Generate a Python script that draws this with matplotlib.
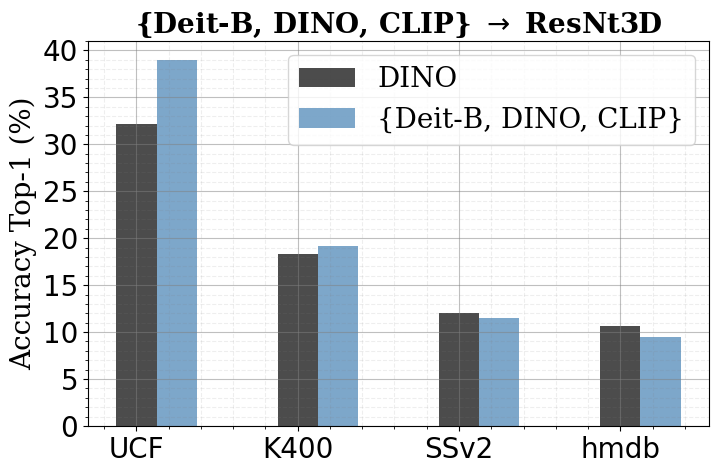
import numpy as np
import matplotlib.pyplot as plt
from matplotlib.ticker import MultipleLocator

plt.rcParams["font.family"] = "serif"

# ====== Data ======
datasets = ["UCF", "K400", "SSv2", "hmdb"]
dino_acc = [32.2, 18.3, 12.0, 10.6]
ensemble_acc = [39.0, 19.2, 11.5, 9.5]
legends = ["DINO", "{Deit-B, DINO, CLIP}"]

fig, ax = plt.subplots(figsize=(7.18, 4.73), dpi=100)

x = np.arange(len(datasets))
width = 0.25

ax.bar(x, dino_acc, width, color="black", alpha=0.7, label=legends[0])
ax.bar(x + width, ensemble_acc, width, color="steelblue", alpha=0.7, label=legends[1])

ax.set_xticks(x)
ax.set_xticklabels(datasets, fontfamily="DejaVu Sans")
ax.set_ylim(0, 41)
ax.yaxis.set_major_locator(MultipleLocator(5))
ax.set_ylabel("Accuracy Top-1 (%)", fontsize=20)
ax.set_title(r"{Deit-B, DINO, CLIP} $\rightarrow$ ResNt3D", fontsize=20, fontweight="bold")

ax.tick_params(labelsize=20)
for lbl in ax.get_yticklabels():
    lbl.set_fontfamily("DejaVu Sans")

# --- grids ---
ax.minorticks_on()
ax.grid(True, which="major", linestyle="-", color="gray", alpha=0.5)
ax.grid(True, which="minor", linestyle="--", color="gray", alpha=0.13)

ax.legend(fontsize=20, loc="upper right")

fig.subplots_adjust(left=0.1226, right=0.9875, bottom=0.0994, top=0.9133)
fig.savefig("out.png", dpi=100)
